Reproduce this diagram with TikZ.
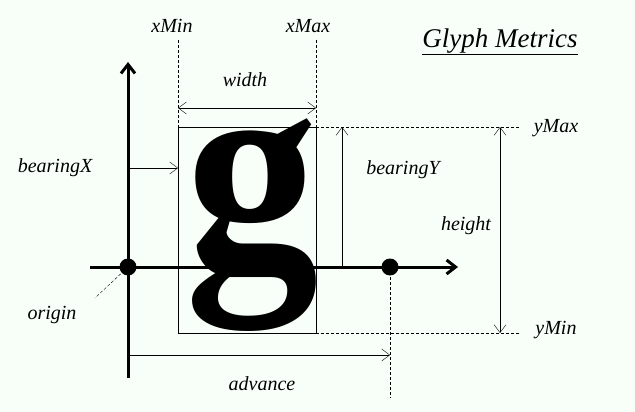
\documentclass[tikz,border=0pt]{standalone}
\usepackage{fontspec}
\setmainfont{Liberation Serif}
\usetikzlibrary{arrows.meta}
\begin{document}
\begin{tikzpicture}[x=1pt,y=-1pt,
  lbl/.style={font=\itshape\fontsize{20}{22}\selectfont,inner sep=1pt},
  dsh/.style={densely dashed,thin},
  axis/.style={line width=3pt,-{Straight Barb[length=9pt,width=14pt,line width=3pt]}},
  dim/.style={thin,{Straight Barb[length=8pt,width=12pt]}-{Straight Barb[length=8pt,width=12pt]}},
  dimr/.style={thin,-{Straight Barb[length=8pt,width=12pt]}},
  dot/.style={circle,fill=black,inner sep=0pt,minimum size=17pt}]
\fill[fill={rgb,255:red,248;green,255;blue,248}] (0,0) rectangle (635,412);
\useasboundingbox (0,0) rectangle (635,412);
% glyph box
\draw[thin] (178,127) rectangle (316,333);
\node[inner sep=0pt,anchor=base,font=\bfseries\fontsize{290}{290}\selectfont] (g) at (252,267) {\scalebox{0.92}[1]{g}};
% axes
\coordinate (vb) at (128,378); \coordinate (vt) at (128,62);
\coordinate (hl) at (90,267); \coordinate (hr) at (458,267);
\draw[axis] (vb) -- (vt);
\draw[axis] (hl) -- (hr);
\node[dot] (o) at (128,267) {};
\node[dot] (a) at (390,267) {};
% xMin / xMax
\node[lbl] (xmin) at (172,26) {xMin};
\node[lbl] (xmax) at (308,26) {xMax};
\draw[dsh] (178,40) -- (178,127);
\draw[dsh] (316,40) -- (316,127);
\node[font=\itshape\fontsize{27}{29}\selectfont] (t) at (500,42) {\underline{Glyph Metrics}};
% width
\coordinate (w1) at (178,108); \coordinate (w2) at (316,108);
\draw[dim] (w1) -- (w2);
\node[lbl] (wl) at (245,80) {width};
% bearingX
\coordinate (bx1) at (128,168); \coordinate (bx2) at (178,168);
\draw[dimr] (bx1) -- (bx2);
\node[lbl] (bxl) at (55,168) {bearingX};
% bearingY
\coordinate (by1) at (342,267); \coordinate (by2) at (342,127);
\draw[dimr] (by1) -- (by2);
\node[lbl] (byl) at (403,170) {bearingY};
% yMax yMin
\draw[dsh] (316,127) -- (520,127);
\draw[dsh] (316,333) -- (520,333);
\node[lbl] (ymax) at (556,128) {yMax};
\node[lbl] (ymin) at (556,330) {yMin};
\coordinate (h1) at (500,127); \coordinate (h2) at (500,333);
\draw[dim] (h1) -- (h2);
\node[lbl] (hl2) at (466,226) {height};
% origin
\node[lbl] (ol) at (52,315) {origin};
\draw[dsh] (o.center) -- (95,298);
% advance
\coordinate (ad1) at (128,355); \coordinate (ad2) at (390,355);
\draw[dimr] (ad1) -- (ad2);
\draw[dsh] (a.center) -- (390,398);
\node[lbl] (al) at (262,384) {advance};
\end{tikzpicture}
\end{document}
